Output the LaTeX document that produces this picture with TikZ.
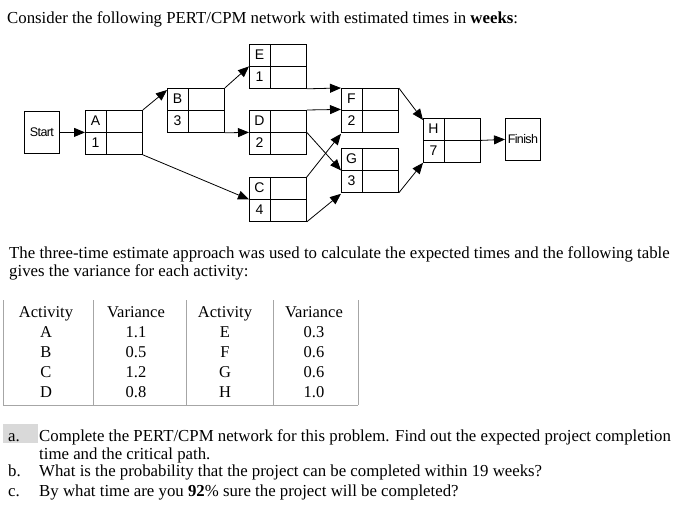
\documentclass[tikz,border=0pt]{standalone}
\usepackage{fontspec}
\setmainfont{Liberation Serif}
\newfontfamily\arial{Liberation Sans}
\usetikzlibrary{arrows.meta,calc}
\begin{document}
\begin{tikzpicture}[x=1pt,y=-1pt,
  abox/.style={draw,line width=0.8pt,minimum width=57pt,minimum height=44pt,inner sep=0pt,anchor=north west},
  tbox/.style={draw,line width=0.8pt,minimum width=35pt,minimum height=42pt,inner sep=0pt,anchor=north west,font=\arial\fontsize{12.5}{12}\selectfont\spacing},
  arr/.style={line width=0.8pt,-{Triangle[length=11pt,width=9pt]}},
  lab/.style={font=\arial\fontsize{14}{14}\selectfont,inner sep=0pt},
  txt/.style={anchor=base west,inner sep=0pt,font=\fontsize{16.8}{18}\selectfont},
  tc/.style={anchor=base,inner sep=0pt,font=\fontsize{16.5}{18}\selectfont}]
\def\spacing{\addfontfeatures{LetterSpace=-5}}
\useasboundingbox (0,0) rectangle (700,506);
\newcommand{\actbox}[5]{%
  \node[abox] (#1) at (#2,#3) {};
  \draw[line width=0.8pt] ($(#1.north west)+(21,0)$) -- ($(#1.south west)+(21,0)$);
  \draw[line width=1.8pt] (#1.west) -- (#1.east);
  \node[lab] at ($(#1.north west)+(10.5,11)$) {#4};
  \node[lab] at ($(#1.north west)+(10.5,33)$) {#5};}
\node[txt] (t1) at (7,23) {Consider the following PERT/CPM network with estimated times in \textbf{weeks}:};
\node[tbox] (S) at (24,111) {Start};
\node[tbox] (Fin) at (505,118) {Finish};
\actbox{A}{85}{110}{A}{1}
\actbox{B}{167}{88}{B}{3}
\actbox{E}{249}{44}{E}{1}
\actbox{D}{249}{110}{D}{2}
\actbox{C}{249}{177}{C}{4}
\actbox{F}{341}{88}{F}{2}
\actbox{G}{341}{148}{G}{3}
\actbox{H}{423}{118}{H}{7}
\draw[arr] (S.east) -- (A.west);
\draw[arr] (A.north east) -- ($(B.north west)+(0,2)$);
\draw[arr] (A.south east) -- (C.west);
\draw[arr] (B.north east) -- (E.west);
\draw[arr] (B.south east) -- (D.west);
\draw[arr] (E.south east) -- (F.north west);
\draw[arr] (D.north east) -- ($(F.west)+(0,-1)$);
\draw[arr] (D.east) -- (G.west);
\draw[arr] (C.north east) -- ($(F.south west)+(0,1)$);
\draw[arr] (C.south east) -- ($(G.south west)+(0,1)$);
\draw[arr] (F.north east) -- ($(H.north west)+(0,2)$);
\draw[arr] (G.south east) -- (H.south west);
\draw[arr] (H.east) -- (Fin.west);
\node[txt] (p1) at (9,258) {The three-time estimate approach was used to calculate the expected times and the following table};
\node[txt] (p2) at (9,276) {gives the variance for each activity:};
\foreach \x in {3,93,186,273,358} \draw[gray!70,line width=0.8pt] (\x,300) -- (\x,405);
\draw[gray!70,line width=0.8pt] (3,405) -- (358,405);
\foreach \a/\b/\c/\d [count=\i] in {Activity/Variance/Activity/Variance,A/1.1/E/0.3,B/0.5/F/0.6,C/1.2/G/0.6,D/0.8/H/1.0}{
  \node[tc] at (46,{297+20*\i}) {\a};
  \node[tc] at (136,{297+20*\i}) {\b};
  \node[tc] at (225,{297+20*\i}) {\c};
  \node[tc] at (314,{297+20*\i}) {\d};}
\fill[gray!30] (3,424) rectangle (38,443);
\node[txt] (qa) at (8,441) {a.};
\node[txt] (qa1) at (39,441) {Complete the PERT/CPM network for this problem. Find out the expected project completion};
\node[txt] (qa2) at (39,459) {time and the critical path.};
\node[txt] (qb) at (8,476) {b.};
\node[txt] (qb1) at (39,476) {What is the probability that the project can be completed within 19 weeks?};
\node[txt] (qc) at (8,496) {c.};
\node[txt] (qc1) at (39,496) {By what time are you \textbf{92}\% sure the project will be completed?};
\end{tikzpicture}
\end{document}
